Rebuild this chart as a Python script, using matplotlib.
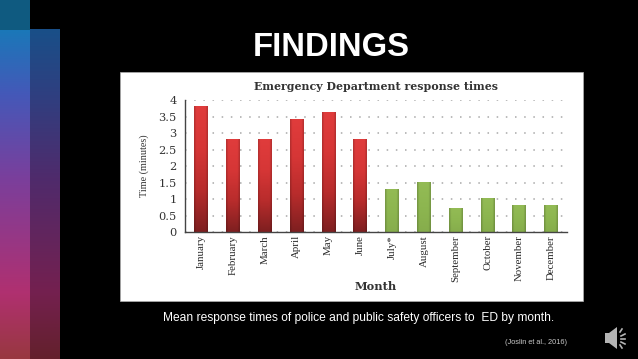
import numpy as np
import matplotlib
matplotlib.use("Agg")
import matplotlib.pyplot as plt
from matplotlib.colors import LinearSegmentedColormap
from matplotlib.patches import Rectangle, Polygon

months = ["January", "February", "March", "April", "May", "June", "July*",
          "August", "September", "October", "November", "December"]
times = [3.8, 2.8, 2.8, 3.4, 3.6, 2.8, 1.3, 1.5, 0.7, 1.0, 0.8, 0.8]
y_ticks = [0, 0.5, 1, 1.5, 2, 2.5, 3, 3.5, 4]
y_labels = ["0", "0.5", "1", "1.5", "2", "2.5", "3", "3.5", "4"]

W, H = 638, 359
fig = plt.figure(figsize=(W / 100, H / 100), dpi=100, facecolor="black")


def px_axes(left, top, right, bottom):
    return fig.add_axes([left / W, 1 - bottom / H, (right - left) / W, (bottom - top) / H])


# slide background, in pixel coordinates
bg = fig.add_axes([0, 0, 1, 1])
bg.set_xlim(0, W)
bg.set_ylim(H, 0)
bg.axis("off")

strip = LinearSegmentedColormap.from_list("strip", [
    (0.0, "#1a78b8"), (0.2, "#4558b8"), (0.45, "#7a3f9c"),
    (0.8, "#b03070"), (1.0, "#983840")])
strip_dim = LinearSegmentedColormap.from_list("strip_dim", [
    (0.0, "#194f88"), (0.2, "#2f3f80"), (0.45, "#4f2b6c"),
    (0.8, "#74204f"), (1.0, "#63202c")])
grad = np.linspace(0, 1, 256).reshape(-1, 1)
bg.imshow(grad, cmap=strip, extent=(0, 29.5, 359, 29.5), aspect="auto", origin="upper")
bg.imshow(grad, cmap=strip_dim, extent=(29.5, 59, 359, 29.5), aspect="auto", origin="upper")
bg.set_xlim(0, W)
bg.set_ylim(H, 0)
bg.add_patch(Rectangle((0, 0), 29.5, 29.5, color="#0f5a80", lw=0))
bg.add_patch(Rectangle((120, 72), 463, 229, facecolor="white", edgecolor="#b0b0b0", lw=0.5))

bg.text(331, 47, "FINDINGS", color="white", fontsize=23.6, fontweight="bold",
        family="Liberation Sans", ha="center", va="center")
bg.text(359, 318, "Mean response times of police and public safety officers to  ED by month.",
        color="white", fontsize=8.65, family="Liberation Sans", ha="center", va="center")
bg.text(567, 343, "(Joslin et al., 2016)", color="#c8c8c8", fontsize=5.3,
        family="Liberation Sans", ha="right", va="center")

# speaker icon
bg.add_patch(Polygon([(605, 333), (609, 333), (617, 327), (617, 349), (609, 343), (605, 343)],
                     closed=True, color="#b4b4b4", lw=0))
for x0, y0, x1, y1 in [(620, 332, 622, 329), (621, 336, 625, 334), (621, 339, 625, 339),
                       (621, 342, 625, 344), (620, 345, 622, 348)]:
    bg.plot([x0, x1], [y0, y1], color="#b4b4b4", lw=1.2)

# chart text that sits on the white panel
bg.text(376, 87, "Emergency Department response times", color="#333333", fontsize=7.9,
        fontweight="bold", family="DejaVu Serif", ha="center", va="center")
bg.text(376, 286, "Month", color="#333333", fontsize=8.2, fontweight="bold",
        family="DejaVu Serif", ha="center", va="center")
bg.text(144, 166, "Time (minutes)", color="#333333", fontsize=7.3, family="Liberation Serif",
        rotation=90, ha="center", va="center")

# chart
ax = px_axes(185, 100, 567, 232.3)
ax.patch.set_alpha(0)
x = np.arange(len(months))
ax.set_xlim(-0.513, 11.5)
ax.set_ylim(0, 4)
ax.set_axisbelow(True)
ax.yaxis.grid(True, linestyle=(0, (1, 5)), color="#a8a8a8", lw=1.1)
ax.xaxis.grid(False)

bars = ax.bar(x, times, width=0.43, color=["#c0302f"] * 6 + ["#8db650"] * 6, lw=0, zorder=2)

# bar shading: vertical colour ramp, a bit darker towards the side edges
red = LinearSegmentedColormap.from_list("red", ["#e03c3c", "#d63636", "#b82c2c", "#7e1f20"])
green = LinearSegmentedColormap.from_list("green", ["#93bb55", "#8db650", "#86ad4c"])
side = np.concatenate([np.linspace(0.82, 1, 4), np.ones(12), np.linspace(1, 0.82, 4)]).reshape(1, -1, 1)
for i, b in enumerate(bars):
    cmap = red if i < 6 else green
    shade = cmap(np.linspace(0, 1, 128))[:, :3].reshape(-1, 1, 3) * side
    ax.imshow(shade, aspect="auto", origin="upper", zorder=3, interpolation="bilinear",
              extent=(b.get_x(), b.get_x() + b.get_width(), 0, b.get_height()))
ax.set_xlim(-0.513, 11.5)
ax.set_ylim(0, 4)

for s in ["top", "right"]:
    ax.spines[s].set_visible(False)
for s in ["left", "bottom"]:
    ax.spines[s].set_color("#444444")
    ax.spines[s].set_linewidth(1)
    ax.spines[s].set_zorder(4)
ax.set_yticks(y_ticks)
ax.set_yticklabels(y_labels, family="DejaVu Serif", fontsize=8.2, color="#333333")
ax.set_xticks(x)
ax.set_xticklabels(months, rotation=90, family="Liberation Serif", fontsize=7.8, color="#2a2a2a")
ax.tick_params(length=0, axis="both")
ax.tick_params(axis="y", pad=6)
ax.tick_params(axis="x", pad=2)

fig.savefig("out.png", dpi=100, facecolor="black")
